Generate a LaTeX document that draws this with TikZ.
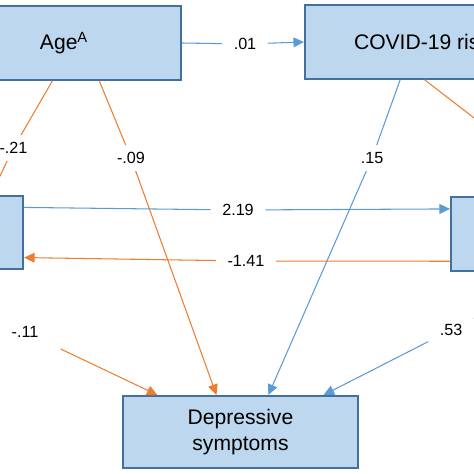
\documentclass[tikz,border=0pt]{standalone}
\usepackage{fontspec}
\setmainfont{Liberation Sans}
\usetikzlibrary{arrows.meta}
\definecolor{boxfill}{HTML}{BDD7EE}
\definecolor{boxedge}{HTML}{41719C}
\definecolor{posblue}{HTML}{5B9BD5}
\definecolor{negorange}{HTML}{ED7D31}

\begin{document}
\begin{tikzpicture}[x=0.025cm, y=-0.025cm,
    box/.style={draw=boxedge, fill=boxfill, line width=1.4pt, minimum width=5.85cm,
      minimum height=1.84cm, inner sep=0pt, align=center, font=\fontsize{15}{18.5}\selectfont},
    coef/.style={inner xsep=8pt, inner ysep=5pt, font=\fontsize{11.5}{13}\selectfont},
    posline/.style={draw=posblue, line width=0.75pt},
    negline/.style={draw=negorange, line width=0.75pt},
    tip/.style={-{Triangle[length=7.5pt, width=7pt]}}]
    \useasboundingbox (0,0) rectangle (474,474);
    \clip (0,0) rectangle (474,474);

    % Variables (the picture is cut at its edges)
    \node[box] (ageBox) at (64,43) {Age\textsuperscript{A}};
    \node[box] (riskBox) at (422,42) {COVID-19 risk};
    \node[box] (leftBox) at (-94,232.5) {};
    \node[box] (rightBox) at (568,234) {};
    \node[box, minimum height=1.8cm] (depBox) at (240.5,432) {Depressive\\symptoms};

    % Path coefficients
    \node[coef] (c01) at (245,44) {.01};
    \node[coef] (c21) at (13.5,148) {-.21};
    \node[coef] (c09) at (131,158) {-.09};
    \node[coef] (c15) at (372,158) {.15};
    \node[coef] (c219) at (238,210) {2.19};
    \node[coef] (c141) at (246,261) {-1.41};
    \node[coef, inner xsep=3pt] (c11) at (25,332) {-.11};
    \node[coef] (c53) at (451,330) {.53};

    % Age paths
    \draw[posline] (ageBox.east) -- (c01);
    \draw[posline, tip] (c01) -- (riskBox.west);
    \draw[negline] (ageBox.-107) -- (c21);
    \draw[negline] (c21) -- (leftBox.24.5);
    \draw[negline] (ageBox.-47.4) -- (c09);
    \draw[negline, tip] (c09) -- (depBox.123.1);

    % COVID-19 risk paths
    \draw[posline] (riskBox.-120.7) -- (c15);
    \draw[posline, tip] (c15) -- (depBox.53.6);
    \draw[negline] (riskBox.-86.9) -- (rightBox.79.3);

    % Between the side boxes
    \draw[posline] (leftBox.12.3) -- (c219);
    \draw[posline, tip] (c219) -- (rightBox.168.4);
    \draw[negline] (rightBox.-167.5) -- (c141);
    \draw[negline, tip] (c141) -- (leftBox.-12.8);

    % Into depressive symptoms
    \draw[negline, shorten >=14pt] (leftBox.-94.7) -- (c11);
    \draw[negline, tip, shorten <=14pt] (c11) -- (depBox.156.7);
    \draw[posline] (rightBox.-94.6) -- (c53);
    \draw[posline, tip] (c53) -- (depBox.24.1);
\end{tikzpicture}
\end{document}
